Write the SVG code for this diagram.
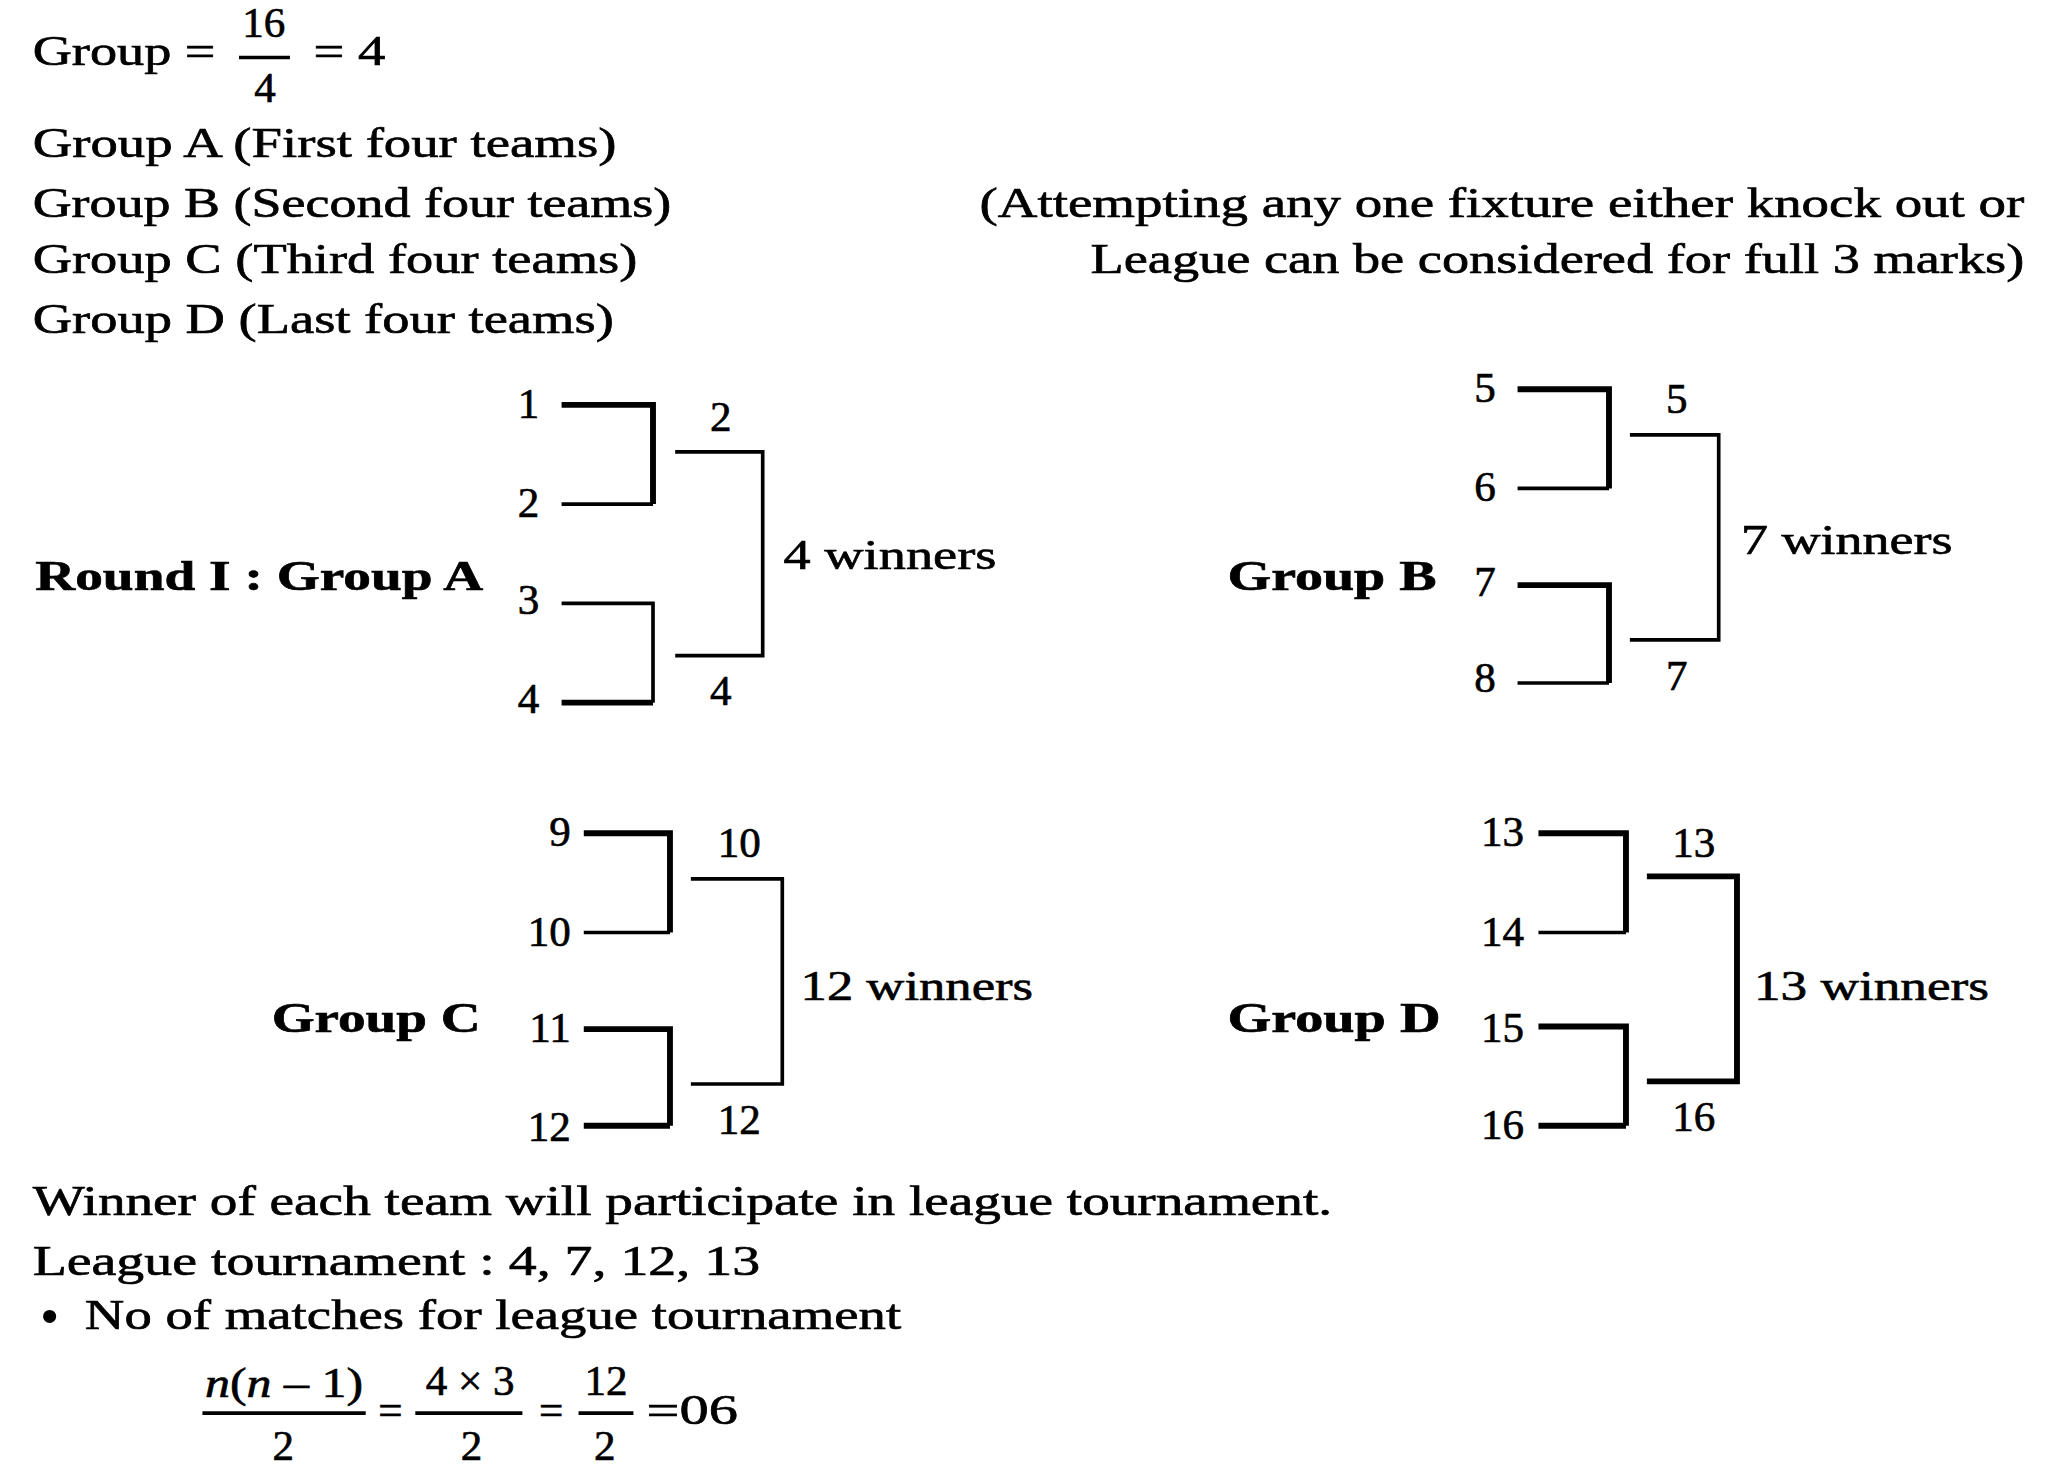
<svg xmlns="http://www.w3.org/2000/svg" width="2048" height="1470" viewBox="0 0 2048 1470">
<style>
text{font-family:"Liberation Serif","DejaVu Serif",serif;font-size:33px;fill:#000;stroke:#000;stroke-width:0.5}
.b{font-weight:bold}
.c{text-anchor:middle}
.r{text-anchor:end}
.k{stroke:#000;stroke-width:4.5;fill:none}
.t{stroke:#000;stroke-width:2.8;fill:none}
</style>
<rect width="2048" height="1470" fill="#fff"/>
<g transform="scale(1.306)">
<g id="header">
<text x="25" y="50" textLength="140" lengthAdjust="spacingAndGlyphs">Group =</text>
<text x="202" y="28" class="c">16</text>
<line x1="183" y1="44" x2="222" y2="44" class="t"/>
<text x="203" y="78" class="c">4</text>
<text x="240" y="50" textLength="55" lengthAdjust="spacingAndGlyphs">= 4</text>
<text x="25" y="120" textLength="447" lengthAdjust="spacingAndGlyphs">Group A (First four teams)</text>
<text x="25" y="166" textLength="489" lengthAdjust="spacingAndGlyphs">Group B (Second four teams)</text>
<text x="25" y="209" textLength="463" lengthAdjust="spacingAndGlyphs">Group C (Third four teams)</text>
<text x="25" y="255" textLength="445" lengthAdjust="spacingAndGlyphs">Group D (Last four teams)</text>
<text x="750" y="166" textLength="800" lengthAdjust="spacingAndGlyphs">(Attempting any one fixture either knock out or</text>
<text x="835" y="209" textLength="715" lengthAdjust="spacingAndGlyphs">League can be considered for full 3 marks)</text>
</g>
<g id="groupA">
<text x="27" y="452" class="b" textLength="343" lengthAdjust="spacingAndGlyphs">Round I : Group A</text>
<text x="413" y="320" class="r">1</text><text x="413" y="396" class="r">2</text>
<text x="413" y="470" class="r">3</text><text x="413" y="546" class="r">4</text>
<text x="552" y="330" class="c">2</text><text x="552" y="540" class="c">4</text>
<text x="600" y="436" textLength="163" lengthAdjust="spacingAndGlyphs">4 winners</text>
</g>
<g id="groupB">
<text x="940" y="452" class="b" textLength="160" lengthAdjust="spacingAndGlyphs">Group B</text>
<text x="1137" y="308" class="c">5</text><text x="1137" y="384" class="c">6</text>
<text x="1137" y="456" class="c">7</text><text x="1137" y="530" class="c">8</text>
<text x="1284" y="316" class="c">5</text><text x="1284" y="528" class="c">7</text>
<text x="1333" y="424" textLength="162" lengthAdjust="spacingAndGlyphs">7 winners</text>
</g>
<g id="groupC">
<text x="208" y="790" class="b" textLength="160" lengthAdjust="spacingAndGlyphs">Group C</text>
<text x="437" y="648" class="r">9</text><text x="437" y="724" class="r">10</text>
<text x="437" y="798" class="r">11</text><text x="437" y="874" class="r">12</text>
<text x="566" y="656" class="c">10</text><text x="566" y="868" class="c">12</text>
<text x="613" y="766" textLength="178" lengthAdjust="spacingAndGlyphs">12 winners</text>
</g>
<g id="groupD">
<text x="940" y="790" class="b" textLength="163" lengthAdjust="spacingAndGlyphs">Group D</text>
<text x="1167" y="648" class="r">13</text><text x="1167" y="724" class="r">14</text>
<text x="1167" y="798" class="r">15</text><text x="1167" y="872" class="r">16</text>
<text x="1297" y="656" class="c">13</text><text x="1297" y="866" class="c">16</text>
<text x="1343" y="766" textLength="180" lengthAdjust="spacingAndGlyphs">13 winners</text>
</g>
<g id="connectors">
<path class="k" d="M430 310H500V386"/><path class="t" d="M430 386H500"/>
<path class="t" d="M430 462H500V538"/><path class="k" d="M430 538H500"/>
<path class="t" d="M517 346H584V502H517"/>
<path class="k" d="M1162 298H1232V374"/><path class="t" d="M1162 374H1232"/>
<path class="k" d="M1162 448H1232V523"/><path class="t" d="M1162 523H1232"/>
<path class="t" d="M1248 333H1316V490H1248"/>
<path class="k" d="M447 638H513V714"/><path class="t" d="M447 714H513"/>
<path class="k" d="M447 788H513V862"/><path class="k" d="M447 862H513"/>
<path class="t" d="M529 673H599V830H529"/>
<path class="k" d="M1178 638H1245V714"/><path class="t" d="M1178 714H1245"/>
<path class="k" d="M1178 786H1245V862"/><path class="k" d="M1178 862H1245"/>
<path class="k" d="M1261 671H1330V828H1261"/>
</g>
<g id="footer">
<text x="25" y="930" textLength="995" lengthAdjust="spacingAndGlyphs">Winner of each team will participate in league tournament.</text>
<text x="25" y="976" textLength="557" lengthAdjust="spacingAndGlyphs">League tournament : 4, 7, 12, 13</text>
<circle cx="38" cy="1008" r="5" fill="#000"/>
<text x="65" y="1018" textLength="625" lengthAdjust="spacingAndGlyphs">No of matches for league tournament</text>
<text x="157" y="1070" textLength="121" lengthAdjust="spacingAndGlyphs"><tspan font-style="italic">n</tspan>(<tspan font-style="italic">n</tspan> – 1)</text>
<line x1="155" y1="1082" x2="280" y2="1082" class="t"/>
<text x="217" y="1118" class="c">2</text>
<text x="299" y="1090" class="c">=</text>
<text x="360" y="1068" class="c">4 × 3</text>
<line x1="318" y1="1082" x2="400" y2="1082" class="t"/>
<text x="361" y="1118" class="c">2</text>
<text x="422" y="1090" class="c">=</text>
<text x="464" y="1068" class="c">12</text>
<line x1="443" y1="1082" x2="485" y2="1082" class="t"/>
<text x="463" y="1118" class="c">2</text>
<text x="495" y="1090" textLength="70" lengthAdjust="spacingAndGlyphs">=06</text>
</g>
</g>
</svg>
